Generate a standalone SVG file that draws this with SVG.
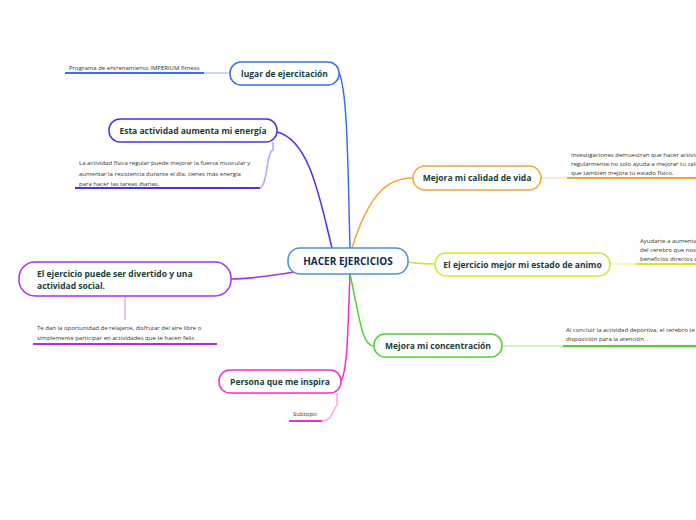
<svg xmlns="http://www.w3.org/2000/svg" width="696" height="520" viewBox="0 0 696 520">
<style>
.n{fill:#fff;stroke-width:1.5}
.t{font-family:"Open Sans","Noto Sans",sans-serif;font-weight:bold;font-size:8.5px;fill:#17403a}
.s{font-family:"Open Sans","Noto Sans",sans-serif;font-size:6px;fill:#333}
.c{fill:none;stroke-width:1.5}
</style>
<rect width="696" height="520" fill="#fff"/>
<g id="connectors">
<path class="c" stroke="#3a6ff0" d="M350,248 C348,180 348,90 339,73"/>
<path class="c" stroke="#4433ee" d="M332,248 C320,200 310,140 277,132"/>
<path class="c" stroke="#b02ee8" d="M295,272 C270,276 250,279 231,279"/>
<path class="c" stroke="#f02ed0" d="M350,274 C348,320 348,370 341,381"/>
<path class="c" stroke="#f7a531" d="M352,248 C370,190 390,178 413,178"/>
<path class="c" stroke="#d4e82a" d="M408,262 C420,264 428,264 435,264"/>
<path class="c" stroke="#4cd430" d="M350,274 C360,320 362,346 374,346"/>
<path stroke="#b8c8f8" stroke-width="1.5" d="M204,73 H230"/>
<path stroke="#3a6ff0" stroke-width="2" d="M65,73 H204"/>
<path class="c" stroke="#b5aaf5" d="M273,142 V150 C266,152 268,185 260,188"/>
<path stroke="#4433ee" stroke-width="2" d="M75,188 H260"/>
<path stroke="#ddb0f5" stroke-width="1.5" d="M125,296 V320"/>
<path stroke="#b02ee8" stroke-width="2" d="M33,344 H217"/>
<path class="c" stroke="#f7a8e8" d="M337,393 V405 C333,408 334,420 322,421"/>
<path stroke="#f02ed0" stroke-width="2" d="M289,421 H322"/>
<path stroke="#fde0b8" stroke-width="1.5" d="M541,178 H567"/>
<path stroke="#f7a531" stroke-width="2" d="M567,178 H696"/>
<path stroke="#eef5b0" stroke-width="1.5" d="M610,264 H636"/>
<path stroke="#d4e82a" stroke-width="2" d="M636,264 H696"/>
<path stroke="#bdf0b0" stroke-width="1.5" d="M502,346 H563"/>
<path stroke="#4cd430" stroke-width="2" d="M563,346 H696"/>
</g>
<g id="center"><rect class="n" stroke="#4a90d9" x="288" y="248" width="120" height="26" rx="12"/><text class="t" x="348" y="265" text-anchor="middle" style="font-size:10px;fill:#0e2a55">HACER EJERCICIOS</text></g>
<g id="lugar"><rect class="n" stroke="#3a6ff0" x="230" y="62" width="109" height="23" rx="11"/><text class="t" x="284.5" y="77" text-anchor="middle">lugar de ejercitación</text></g>
<g id="lugar-sub"><text class="s" x="69" y="70">Programa de entrenamiento IMPERIUM fitness</text></g>
<g id="energia"><rect class="n" stroke="#4433ee" x="109" y="119" width="168" height="23" rx="11"/><text class="t" x="193" y="134" text-anchor="middle">Esta actividad aumenta mi energía</text></g>
<g id="energia-sub"><text class="s" x="79" y="165">La actividad física regular puede mejorar la fuerza muscular y</text><text class="s" x="79" y="175.5">aumentar la resistencia durante el día, tienes más energía</text><text class="s" x="79" y="186">para hacer las tareas diarias.</text></g>
<g id="divertido"><rect class="n" stroke="#b02ee8" x="19" y="262" width="212" height="34" rx="16"/><text class="t" x="37" y="277">El ejercicio puede ser divertido y una</text><text class="t" x="37" y="289">actividad social.</text></g>
<g id="divertido-sub"><text class="s" x="37" y="330">Te dan la oportunidad de relajarte, disfrutar del aire libre o</text><text class="s" x="37" y="340">simplemente participar en actividades que te hacen feliz.</text></g>
<g id="persona"><rect class="n" stroke="#f02ed0" x="219" y="370" width="122" height="23" rx="11"/><text class="t" x="280" y="385" text-anchor="middle">Persona que me inspira</text></g>
<g id="persona-sub"><text class="s" x="293" y="416">Subtopic</text></g>
<g id="calidad"><rect class="n" stroke="#f7a531" x="413" y="166" width="128" height="24" rx="12"/><text class="t" x="477" y="181" text-anchor="middle">Mejora mi calidad de vida</text></g>
<g id="calidad-sub"><text class="s" x="571" y="157">Investigaciones demuestran que hacer actividad</text><text class="s" x="571" y="166">regularmente no solo ayuda a mejorar tu calidad</text><text class="s" x="571" y="175">que también mejora tu estado físico.</text></g>
<g id="animo"><rect class="n" stroke="#d4e82a" x="435" y="253" width="175" height="23" rx="11"/><text class="t" x="522.5" y="268" text-anchor="middle">El ejercicio mejor mi estado de animo</text></g>
<g id="animo-sub"><text class="s" x="640" y="243">Ayudarte a aumentar</text><text class="s" x="640" y="252">del cerebro que nos</text><text class="s" x="640" y="261">beneficios directos d</text></g>
<g id="concentracion"><rect class="n" stroke="#4cd430" x="374" y="334" width="128" height="23" rx="11"/><text class="t" x="438" y="349" text-anchor="middle">Mejora mi concentración</text></g>
<g id="concentracion-sub"><text class="s" x="566" y="332">Al concluir la actividad deportiva, el cerebro te</text><text class="s" x="566" y="341">disposición para la atención.</text></g>
</svg>
